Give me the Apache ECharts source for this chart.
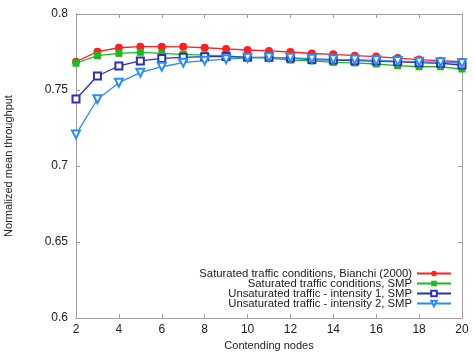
<!DOCTYPE html>
<html><head><meta charset="utf-8">
<script src="https://cdn.jsdelivr.net/npm/echarts@6/dist/echarts.min.js"></script>
<style>html,body{margin:0;padding:0;background:#fff}#c{width:474px;height:355px}</style>
</head><body><div id="c"></div>
<script>
const nodes = [2,3,4,5,6,7,8,9,10,11,12,13,14,15,16,17,18,19,20];
const bianchi = [0.7686,0.7752,0.7778,0.7785,0.7785,0.7784,0.7778,0.7770,0.7763,0.7757,0.7750,0.7740,0.7735,0.7726,0.7720,0.7710,0.7700,0.7693,0.7686];
const satSMP = [0.7676,0.7726,0.7741,0.7748,0.7741,0.7735,0.7730,0.7724,0.7715,0.7710,0.7697,0.7691,0.7682,0.7678,0.7671,0.7660,0.7653,0.7653,0.7638];
const unsat1 = [0.7441,0.7592,0.7658,0.7691,0.7708,0.7715,0.7719,0.7720,0.7715,0.7715,0.7710,0.7700,0.7697,0.7693,0.7690,0.7686,0.7680,0.7676,0.7664];
const unsat2 = [0.7208,0.7439,0.7548,0.7614,0.7653,0.7680,0.7693,0.7703,0.7712,0.7715,0.7712,0.7706,0.7702,0.7700,0.7695,0.7690,0.7686,0.7683,0.7676];
const names = ["Saturated traffic conditions, Bianchi (2000)","Saturated traffic conditions, SMP","Unsaturated traffic - intensity 1, SMP","Unsaturated traffic - intensity 2, SMP"];
const xTicks = [2,4,6,8,10,12,14,16,18,20];
const yTicks = [0.6,0.65,0.7,0.75,0.8];

const font = 'Liberation Sans, Arial, sans-serif';
const axisCol = '#a0a0a0';
function pairs(v){return nodes.map((n,i)=>[n,v[i]]);}
const chart = echarts.init(document.getElementById('c'));
const baseX = {type:'value',min:2,max:20,interval:2,
  axisLine:{show:true,lineStyle:{color:axisCol,width:1}},
  axisTick:{show:true,inside:true,length:4,lineStyle:{color:axisCol}},
  splitLine:{show:false}};
const baseY = {type:'value',min:0.6,max:0.8,interval:0.05,
  axisLine:{show:true,lineStyle:{color:axisCol,width:1}},
  axisTick:{show:true,inside:true,length:4,lineStyle:{color:axisCol}},
  splitLine:{show:false}};
chart.setOption({
  animation:false,
  textStyle:{fontFamily:font},
  grid:{left:76,right:12,top:14,bottom:37,containLabel:false,outerBoundsMode:'none'},
  xAxis:[
    Object.assign({},baseX,{position:'bottom',name:'Contending nodes',nameLocation:'middle',nameGap:22,
      nameTextStyle:{fontFamily:font,fontSize:11,color:'#222'},
      axisLabel:{fontFamily:font,fontSize:12,color:'#222',margin:6,formatter:v=>xTicks.includes(v)?String(v):''}}),
    Object.assign({},baseX,{position:'top',axisLabel:{show:false}})
  ],
  yAxis:[
    Object.assign({},baseY,{position:'left',name:'Normalized mean throughput',nameLocation:'middle',nameGap:62,
      nameTextStyle:{fontFamily:font,fontSize:11,color:'#222'},
      axisLabel:{fontFamily:font,fontSize:12,color:'#222',margin:8,formatter:v=>{const t=yTicks.find(y=>Math.abs(y-v)<1e-9);return t===undefined?'':String(t);}}}),
    Object.assign({},baseY,{position:'right',axisLabel:{show:false}})
  ],
  legend:{orient:'vertical',align:'right',right:22,bottom:46,padding:0,itemWidth:34,itemHeight:7,itemGap:-1,
    textStyle:{fontFamily:font,fontSize:11.3,color:'#222',lineHeight:10},
    data:names},
  series:[
    {name:names[0],type:'line',data:pairs(bianchi),symbol:'circle',symbolSize:8,
     lineStyle:{color:'#ff2020',width:1.3},itemStyle:{color:'#ff2020'}},
    {name:names[1],type:'line',data:pairs(satSMP),symbol:'rect',symbolSize:7,
     lineStyle:{color:'#20b820',width:1.3},itemStyle:{color:'#20b820'}},
    {name:names[2],type:'line',data:pairs(unsat1),symbol:'emptyRect',symbolSize:7,
     lineStyle:{color:'#3030b0',width:1.3},itemStyle:{color:'#3030b0',borderColor:'#3030b0',borderWidth:1.3}},
    {name:names[3],type:'line',data:pairs(unsat2),symbol:'emptyTriangle',symbolSize:8,symbolRotate:180,
     lineStyle:{color:'#2a8ef0',width:1.3},itemStyle:{color:'#2a8ef0',borderColor:'#2a8ef0',borderWidth:1.3}}
  ]
});
</script></body></html>
